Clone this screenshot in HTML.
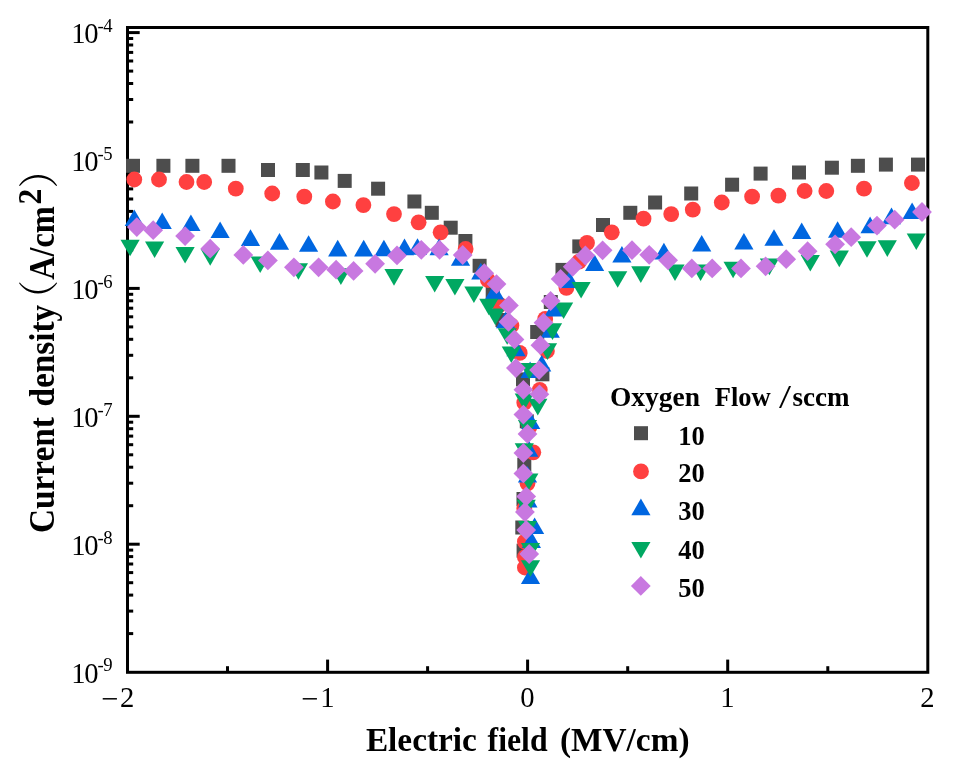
<!DOCTYPE html>
<html lang="en"><head><meta charset="utf-8"><title>Current density vs electric field</title>
<style>html,body{margin:0;padding:0;background:#fff}svg{display:block}text{font-family:"Liberation Serif","Noto Serif CJK SC",serif;fill:#000}.tk{font-size:28.6px}.sup{font-size:18.7px}.b{font-weight:bold}</style></head><body>
<svg width="953" height="774" viewBox="0 0 953 774">
<rect width="953" height="774" fill="#fff"/>
<g stroke="#000" stroke-width="3" fill="none" stroke-linecap="butt">
<rect x="127.5" y="27.5" width="800.3" height="644.8"/>
<path d="M127.5 32.6H139.7"/>
<path d="M127.5 122.0H133.2"/>
<path d="M127.5 99.5H133.2"/>
<path d="M127.5 83.5H133.2"/>
<path d="M127.5 71.1H133.2"/>
<path d="M127.5 61.0H133.2"/>
<path d="M127.5 52.4H133.2"/>
<path d="M127.5 45.0H133.2"/>
<path d="M127.5 38.5H133.2"/>
<path d="M127.5 160.5H139.7"/>
<path d="M127.5 249.9H133.2"/>
<path d="M127.5 227.4H133.2"/>
<path d="M127.5 211.4H133.2"/>
<path d="M127.5 199.0H133.2"/>
<path d="M127.5 188.9H133.2"/>
<path d="M127.5 180.3H133.2"/>
<path d="M127.5 172.9H133.2"/>
<path d="M127.5 166.4H133.2"/>
<path d="M127.5 288.4H139.7"/>
<path d="M127.5 377.8H133.2"/>
<path d="M127.5 355.3H133.2"/>
<path d="M127.5 339.3H133.2"/>
<path d="M127.5 326.9H133.2"/>
<path d="M127.5 316.8H133.2"/>
<path d="M127.5 308.2H133.2"/>
<path d="M127.5 300.8H133.2"/>
<path d="M127.5 294.3H133.2"/>
<path d="M127.5 416.3H139.7"/>
<path d="M127.5 505.7H133.2"/>
<path d="M127.5 483.2H133.2"/>
<path d="M127.5 467.2H133.2"/>
<path d="M127.5 454.8H133.2"/>
<path d="M127.5 444.7H133.2"/>
<path d="M127.5 436.1H133.2"/>
<path d="M127.5 428.7H133.2"/>
<path d="M127.5 422.2H133.2"/>
<path d="M127.5 544.2H139.7"/>
<path d="M127.5 633.6H133.2"/>
<path d="M127.5 611.1H133.2"/>
<path d="M127.5 595.1H133.2"/>
<path d="M127.5 582.7H133.2"/>
<path d="M127.5 572.6H133.2"/>
<path d="M127.5 564.0H133.2"/>
<path d="M127.5 556.6H133.2"/>
<path d="M127.5 550.1H133.2"/>
<path d="M227.5 672.3V666.2"/>
<path d="M327.6 672.3V659.6"/>
<path d="M427.6 672.3V666.2"/>
<path d="M527.6 672.3V659.6"/>
<path d="M627.7 672.3V666.2"/>
<path d="M727.7 672.3V659.6"/>
<path d="M827.8 672.3V666.2"/>
</g>
<text class="tk" x="71.3" y="43.3" letter-spacing="-1.3">10</text><text class="sup" x="97.6" y="31.9" letter-spacing="-0.6">-4</text>
<text class="tk" x="71.3" y="171.2" letter-spacing="-1.3">10</text><text class="sup" x="97.6" y="159.8" letter-spacing="-0.6">-5</text>
<text class="tk" x="71.3" y="299.1" letter-spacing="-1.3">10</text><text class="sup" x="97.6" y="287.7" letter-spacing="-0.6">-6</text>
<text class="tk" x="71.3" y="427.0" letter-spacing="-1.3">10</text><text class="sup" x="97.6" y="415.6" letter-spacing="-0.6">-7</text>
<text class="tk" x="71.3" y="554.9" letter-spacing="-1.3">10</text><text class="sup" x="97.6" y="543.5" letter-spacing="-0.6">-8</text>
<text class="tk" x="71.3" y="682.8" letter-spacing="-1.3">10</text><text class="sup" x="97.6" y="671.4" letter-spacing="-0.6">-9</text>
<text class="tk" text-anchor="middle" x="127.2" y="706.9">2</text>
<text font-size="30.5" text-anchor="end" x="118.1" y="708.6">−</text>
<text class="tk" text-anchor="middle" x="327.3" y="706.9">1</text>
<text font-size="30.5" text-anchor="end" x="318.2" y="708.6">−</text>
<text class="tk" text-anchor="middle" x="527.4" y="706.9">0</text>
<text class="tk" text-anchor="middle" x="727.4" y="706.9">1</text>
<text class="tk" text-anchor="middle" x="927.5" y="706.9">2</text>
<g class="b" font-size="33.3"><text x="365.9" y="751.2">Electric</text><text x="487.6" y="751.2" textLength="60" lengthAdjust="spacingAndGlyphs">field</text><text x="560" y="751.2" textLength="129.5" lengthAdjust="spacingAndGlyphs">(MV/cm)</text></g>
<g transform="translate(54.3 533) rotate(-90) scale(1 1.05)"><g class="b" font-size="33.3"><text x="0" y="0">Current</text><text x="126.4" y="0">density</text><text x="253.2" y="0" textLength="73.6" lengthAdjust="spacingAndGlyphs">A/cm</text><text font-size="31.5" x="328.5" y="-13.1">2</text></g><g font-size="38.8" font-family="Noto Serif CJK SC,serif"><text x="214.2" y="0">（</text><text x="344.4" y="0">）</text></g></g>
<g fill="#4d4d4d"><rect x="126.0" y="158.8" width="14" height="14"/><rect x="156.4" y="158.8" width="14" height="14"/><rect x="185.4" y="158.8" width="14" height="14"/><rect x="221.5" y="158.8" width="14" height="14"/><rect x="261.0" y="163.0" width="14" height="14"/><rect x="295.8" y="163.0" width="14" height="14"/><rect x="314.4" y="165.5" width="14" height="14"/><rect x="337.7" y="173.9" width="14" height="14"/><rect x="371.1" y="181.7" width="14" height="14"/><rect x="407.4" y="194.5" width="14" height="14"/><rect x="424.8" y="205.8" width="14" height="14"/><rect x="443.7" y="220.7" width="14" height="14"/><rect x="458.4" y="234.0" width="14" height="14"/><rect x="472.6" y="258.8" width="14" height="14"/><rect x="485.7" y="284.4" width="14" height="14"/><rect x="495.5" y="313.0" width="14" height="14"/><rect x="516.0" y="372.4" width="14" height="14"/><rect x="519.8" y="414.3" width="14" height="14"/><rect x="517.3" y="457.6" width="14" height="14"/><rect x="516.5" y="492.0" width="14" height="14"/><rect x="515.3" y="520.5" width="14" height="14"/><rect x="516.6" y="543.7" width="14" height="14"/><rect x="535.4" y="367.3" width="14" height="14"/><rect x="530.2" y="325.0" width="14" height="14"/><rect x="543.8" y="295.0" width="14" height="14"/><rect x="555.5" y="262.9" width="14" height="14"/><rect x="572.3" y="239.4" width="14" height="14"/><rect x="596.0" y="218.0" width="14" height="14"/><rect x="623.3" y="205.8" width="14" height="14"/><rect x="648.1" y="195.5" width="14" height="14"/><rect x="684.2" y="186.5" width="14" height="14"/><rect x="725.1" y="177.7" width="14" height="14"/><rect x="753.6" y="166.6" width="14" height="14"/><rect x="792.0" y="165.5" width="14" height="14"/><rect x="824.9" y="160.7" width="14" height="14"/><rect x="850.9" y="158.8" width="14" height="14"/><rect x="878.9" y="157.6" width="14" height="14"/><rect x="911.0" y="157.6" width="14" height="14"/></g>
<g fill="#ff4040"><circle cx="134.3" cy="179.5" r="7.9"/><circle cx="159.0" cy="179.5" r="7.9"/><circle cx="186.5" cy="182.0" r="7.9"/><circle cx="204.2" cy="182.0" r="7.9"/><circle cx="235.8" cy="188.7" r="7.9"/><circle cx="272.2" cy="193.5" r="7.9"/><circle cx="304.3" cy="196.7" r="7.9"/><circle cx="332.9" cy="201.5" r="7.9"/><circle cx="363.4" cy="205.1" r="7.9"/><circle cx="394.0" cy="214.1" r="7.9"/><circle cx="418.6" cy="222.3" r="7.9"/><circle cx="440.6" cy="232.3" r="7.9"/><circle cx="465.6" cy="249.0" r="7.9"/><circle cx="487.9" cy="280.0" r="7.9"/><circle cx="499.7" cy="304.9" r="7.9"/><circle cx="511.4" cy="325.5" r="7.9"/><circle cx="519.7" cy="352.9" r="7.9"/><circle cx="524.3" cy="402.7" r="7.9"/><circle cx="529.4" cy="427.0" r="7.9"/><circle cx="533.3" cy="452.3" r="7.9"/><circle cx="527.5" cy="483.3" r="7.9"/><circle cx="524.3" cy="508.7" r="7.9"/><circle cx="524.9" cy="541.7" r="7.9"/><circle cx="524.9" cy="557.2" r="7.9"/><circle cx="524.9" cy="567.5" r="7.9"/><circle cx="539.8" cy="389.8" r="7.9"/><circle cx="546.9" cy="351.0" r="7.9"/><circle cx="545.2" cy="318.9" r="7.9"/><circle cx="566.4" cy="287.8" r="7.9"/><circle cx="579.0" cy="261.6" r="7.9"/><circle cx="587.0" cy="242.8" r="7.9"/><circle cx="611.8" cy="232.3" r="7.9"/><circle cx="643.5" cy="218.7" r="7.9"/><circle cx="671.2" cy="214.1" r="7.9"/><circle cx="692.8" cy="209.7" r="7.9"/><circle cx="721.8" cy="202.5" r="7.9"/><circle cx="752.1" cy="196.7" r="7.9"/><circle cx="778.4" cy="195.6" r="7.9"/><circle cx="804.6" cy="191.0" r="7.9"/><circle cx="826.3" cy="191.0" r="7.9"/><circle cx="864.0" cy="188.7" r="7.9"/><circle cx="911.9" cy="183.0" r="7.9"/></g>
<g fill="#0066e0"><path d="M134.3 209.4l9.6 16.6h-19.2z"/><path d="M162.2 212.4l9.6 16.6h-19.2z"/><path d="M190.9 214.5l9.6 16.6h-19.2z"/><path d="M220.1 221.4l9.6 16.6h-19.2z"/><path d="M250.5 229.3l9.6 16.6h-19.2z"/><path d="M279.5 233.1l9.6 16.6h-19.2z"/><path d="M308.6 235.2l9.6 16.6h-19.2z"/><path d="M337.7 239.8l9.6 16.6h-19.2z"/><path d="M363.7 239.8l9.6 16.6h-19.2z"/><path d="M383.9 239.7l9.6 16.6h-19.2z"/><path d="M404.5 238.6l9.6 16.6h-19.2z"/><path d="M417.5 238.2l9.6 16.6h-19.2z"/><path d="M439.1 238.6l9.6 16.6h-19.2z"/><path d="M460.5 249.1l9.6 16.6h-19.2z"/><path d="M480.8 262.8l9.6 16.6h-19.2z"/><path d="M494.5 283.0l9.6 16.6h-19.2z"/><path d="M505.5 311.7l9.6 16.6h-19.2z"/><path d="M516.0 339.6l9.6 16.6h-19.2z"/><path d="M530.1 361.5l9.6 16.6h-19.2z"/><path d="M541.7 354.9l9.6 16.6h-19.2z"/><path d="M530.7 412.4l9.6 16.6h-19.2z"/><path d="M528.7 440.2l9.6 16.6h-19.2z"/><path d="M527.5 466.0l9.6 16.6h-19.2z"/><path d="M527.9 490.8l9.6 16.6h-19.2z"/><path d="M534.6 517.5l9.6 16.6h-19.2z"/><path d="M531.4 531.5l9.6 16.6h-19.2z"/><path d="M530.5 567.5l9.6 16.6h-19.2z"/><path d="M550.3 321.2l9.6 16.6h-19.2z"/><path d="M554.0 299.9l9.6 16.6h-19.2z"/><path d="M569.4 271.3l9.6 16.6h-19.2z"/><path d="M594.6 254.4l9.6 16.6h-19.2z"/><path d="M621.9 246.0l9.6 16.6h-19.2z"/><path d="M663.9 242.8l9.6 16.6h-19.2z"/><path d="M701.7 234.9l9.6 16.6h-19.2z"/><path d="M743.9 233.0l9.6 16.6h-19.2z"/><path d="M774.0 229.2l9.6 16.6h-19.2z"/><path d="M801.7 222.5l9.6 16.6h-19.2z"/><path d="M837.6 221.2l9.6 16.6h-19.2z"/><path d="M870.1 216.6l9.6 16.6h-19.2z"/><path d="M891.5 207.6l9.6 16.6h-19.2z"/><path d="M912.1 202.5l9.6 16.6h-19.2z"/></g>
<g fill="#00a862"><path d="M120.5 239.7h19.2l-9.6 16.6z"/><path d="M145.0 241.4h19.2l-9.6 16.6z"/><path d="M175.5 247.0h19.2l-9.6 16.6z"/><path d="M200.6 249.1h19.2l-9.6 16.6z"/><path d="M250.6 256.5h19.2l-9.6 16.6z"/><path d="M288.8 263.2h19.2l-9.6 16.6z"/><path d="M331.3 268.3h19.2l-9.6 16.6z"/><path d="M384.4 269.1h19.2l-9.6 16.6z"/><path d="M425.1 276.0h19.2l-9.6 16.6z"/><path d="M445.3 278.9h19.2l-9.6 16.6z"/><path d="M464.3 286.4h19.2l-9.6 16.6z"/><path d="M479.2 298.7h19.2l-9.6 16.6z"/><path d="M485.7 308.6h19.2l-9.6 16.6z"/><path d="M497.6 328.2h19.2l-9.6 16.6z"/><path d="M501.7 346.5h19.2l-9.6 16.6z"/><path d="M519.8 363.0h19.2l-9.6 16.6z"/><path d="M514.7 393.6h19.2l-9.6 16.6z"/><path d="M517.9 420.0h19.2l-9.6 16.6z"/><path d="M514.7 443.3h19.2l-9.6 16.6z"/><path d="M519.2 473.6h19.2l-9.6 16.6z"/><path d="M516.6 499.7h19.2l-9.6 16.6z"/><path d="M517.9 521.0h19.2l-9.6 16.6z"/><path d="M520.9 543.0h19.2l-9.6 16.6z"/><path d="M520.9 560.2h19.2l-9.6 16.6z"/><path d="M528.2 398.8h19.2l-9.6 16.6z"/><path d="M537.9 343.3h19.2l-9.6 16.6z"/><path d="M542.9 323.3h19.2l-9.6 16.6z"/><path d="M554.0 302.4h19.2l-9.6 16.6z"/><path d="M571.5 281.9h19.2l-9.6 16.6z"/><path d="M608.1 271.2h19.2l-9.6 16.6z"/><path d="M631.2 266.3h19.2l-9.6 16.6z"/><path d="M665.4 264.4h19.2l-9.6 16.6z"/><path d="M691.0 264.4h19.2l-9.6 16.6z"/><path d="M723.5 261.7h19.2l-9.6 16.6z"/><path d="M759.8 258.6h19.2l-9.6 16.6z"/><path d="M800.7 255.0h19.2l-9.6 16.6z"/><path d="M829.7 250.6h19.2l-9.6 16.6z"/><path d="M857.4 241.2h19.2l-9.6 16.6z"/><path d="M877.7 240.3h19.2l-9.6 16.6z"/><path d="M906.7 233.4h19.2l-9.6 16.6z"/></g>
<g fill="#c878e0"><path d="M136.8 217.2l9.9 9.9l-9.9 9.9l-9.9 -9.9z"/><path d="M153.2 220.3l9.9 9.9l-9.9 9.9l-9.9 -9.9z"/><path d="M185.1 226.2l9.9 9.9l-9.9 9.9l-9.9 -9.9z"/><path d="M210.2 238.8l9.9 9.9l-9.9 9.9l-9.9 -9.9z"/><path d="M243.3 245.0l9.9 9.9l-9.9 9.9l-9.9 -9.9z"/><path d="M267.9 250.5l9.9 9.9l-9.9 9.9l-9.9 -9.9z"/><path d="M293.9 257.4l9.9 9.9l-9.9 9.9l-9.9 -9.9z"/><path d="M318.6 257.4l9.9 9.9l-9.9 9.9l-9.9 -9.9z"/><path d="M336.1 259.8l9.9 9.9l-9.9 9.9l-9.9 -9.9z"/><path d="M353.6 261.0l9.9 9.9l-9.9 9.9l-9.9 -9.9z"/><path d="M375.1 253.9l9.9 9.9l-9.9 9.9l-9.9 -9.9z"/><path d="M397.0 245.5l9.9 9.9l-9.9 9.9l-9.9 -9.9z"/><path d="M421.3 239.9l9.9 9.9l-9.9 9.9l-9.9 -9.9z"/><path d="M439.6 239.9l9.9 9.9l-9.9 9.9l-9.9 -9.9z"/><path d="M462.7 245.1l9.9 9.9l-9.9 9.9l-9.9 -9.9z"/><path d="M484.3 263.3l9.9 9.9l-9.9 9.9l-9.9 -9.9z"/><path d="M496.5 274.2l9.9 9.9l-9.9 9.9l-9.9 -9.9z"/><path d="M508.9 295.5l9.9 9.9l-9.9 9.9l-9.9 -9.9z"/><path d="M508.5 311.9l9.9 9.9l-9.9 9.9l-9.9 -9.9z"/><path d="M514.5 329.5l9.9 9.9l-9.9 9.9l-9.9 -9.9z"/><path d="M515.9 358.2l9.9 9.9l-9.9 9.9l-9.9 -9.9z"/><path d="M523.4 379.9l9.9 9.9l-9.9 9.9l-9.9 -9.9z"/><path d="M523.4 404.7l9.9 9.9l-9.9 9.9l-9.9 -9.9z"/><path d="M527.5 424.0l9.9 9.9l-9.9 9.9l-9.9 -9.9z"/><path d="M523.4 443.1l9.9 9.9l-9.9 9.9l-9.9 -9.9z"/><path d="M523.4 463.5l9.9 9.9l-9.9 9.9l-9.9 -9.9z"/><path d="M526.2 486.5l9.9 9.9l-9.9 9.9l-9.9 -9.9z"/><path d="M524.9 502.1l9.9 9.9l-9.9 9.9l-9.9 -9.9z"/><path d="M526.2 520.2l9.9 9.9l-9.9 9.9l-9.9 -9.9z"/><path d="M529.2 544.1l9.9 9.9l-9.9 9.9l-9.9 -9.9z"/><path d="M539.4 384.4l9.9 9.9l-9.9 9.9l-9.9 -9.9z"/><path d="M539.1 360.2l9.9 9.9l-9.9 9.9l-9.9 -9.9z"/><path d="M540.4 335.3l9.9 9.9l-9.9 9.9l-9.9 -9.9z"/><path d="M543.5 312.8l9.9 9.9l-9.9 9.9l-9.9 -9.9z"/><path d="M550.6 291.1l9.9 9.9l-9.9 9.9l-9.9 -9.9z"/><path d="M560.6 269.0l9.9 9.9l-9.9 9.9l-9.9 -9.9z"/><path d="M572.7 256.9l9.9 9.9l-9.9 9.9l-9.9 -9.9z"/><path d="M585.4 245.6l9.9 9.9l-9.9 9.9l-9.9 -9.9z"/><path d="M602.6 240.4l9.9 9.9l-9.9 9.9l-9.9 -9.9z"/><path d="M632.0 240.3l9.9 9.9l-9.9 9.9l-9.9 -9.9z"/><path d="M649.2 244.9l9.9 9.9l-9.9 9.9l-9.9 -9.9z"/><path d="M668.1 250.4l9.9 9.9l-9.9 9.9l-9.9 -9.9z"/><path d="M691.8 258.5l9.9 9.9l-9.9 9.9l-9.9 -9.9z"/><path d="M712.2 258.5l9.9 9.9l-9.9 9.9l-9.9 -9.9z"/><path d="M741.0 258.5l9.9 9.9l-9.9 9.9l-9.9 -9.9z"/><path d="M765.6 256.4l9.9 9.9l-9.9 9.9l-9.9 -9.9z"/><path d="M786.2 249.3l9.9 9.9l-9.9 9.9l-9.9 -9.9z"/><path d="M807.6 241.3l9.9 9.9l-9.9 9.9l-9.9 -9.9z"/><path d="M835.1 234.4l9.9 9.9l-9.9 9.9l-9.9 -9.9z"/><path d="M851.2 227.3l9.9 9.9l-9.9 9.9l-9.9 -9.9z"/><path d="M877.0 215.7l9.9 9.9l-9.9 9.9l-9.9 -9.9z"/><path d="M894.7 209.8l9.9 9.9l-9.9 9.9l-9.9 -9.9z"/><path d="M922.0 202.1l9.9 9.9l-9.9 9.9l-9.9 -9.9z"/></g>
<g class="b" font-size="26.5"><text x="610" y="406.2" textLength="90" lengthAdjust="spacingAndGlyphs">Oxygen</text><text x="714.8" y="406.2">Flow</text><text x="792.6" y="406.2" textLength="57" lengthAdjust="spacingAndGlyphs">sccm</text>
<text x="678.3" y="444.5">10</text>
<text x="678.3" y="482.3">20</text>
<text x="678.3" y="520.2">30</text>
<text x="678.3" y="558.5">40</text>
<text x="678.3" y="597">50</text>
</g>
<text font-size="33" x="779" y="408.3" transform="translate(779 408.3) scale(1.32 1) translate(-779 -408.3)">/</text>
<g fill="#4d4d4d"><rect x="634" y="426.2" width="14" height="14"/></g>
<g fill="#ff4040"><circle cx="641" cy="471.4" r="7.9"/></g>
<g fill="#0066e0"><path d="M640.9 498.6l9.6 16.6h-19.2z"/></g>
<g fill="#00a862"><path d="M631.3 541.9h19.2l-9.6 16.6z"/></g>
<g fill="#c878e0"><path d="M640.8 576.0l9.9 9.9l-9.9 9.9l-9.9 -9.9z"/></g>
</svg></body></html>
